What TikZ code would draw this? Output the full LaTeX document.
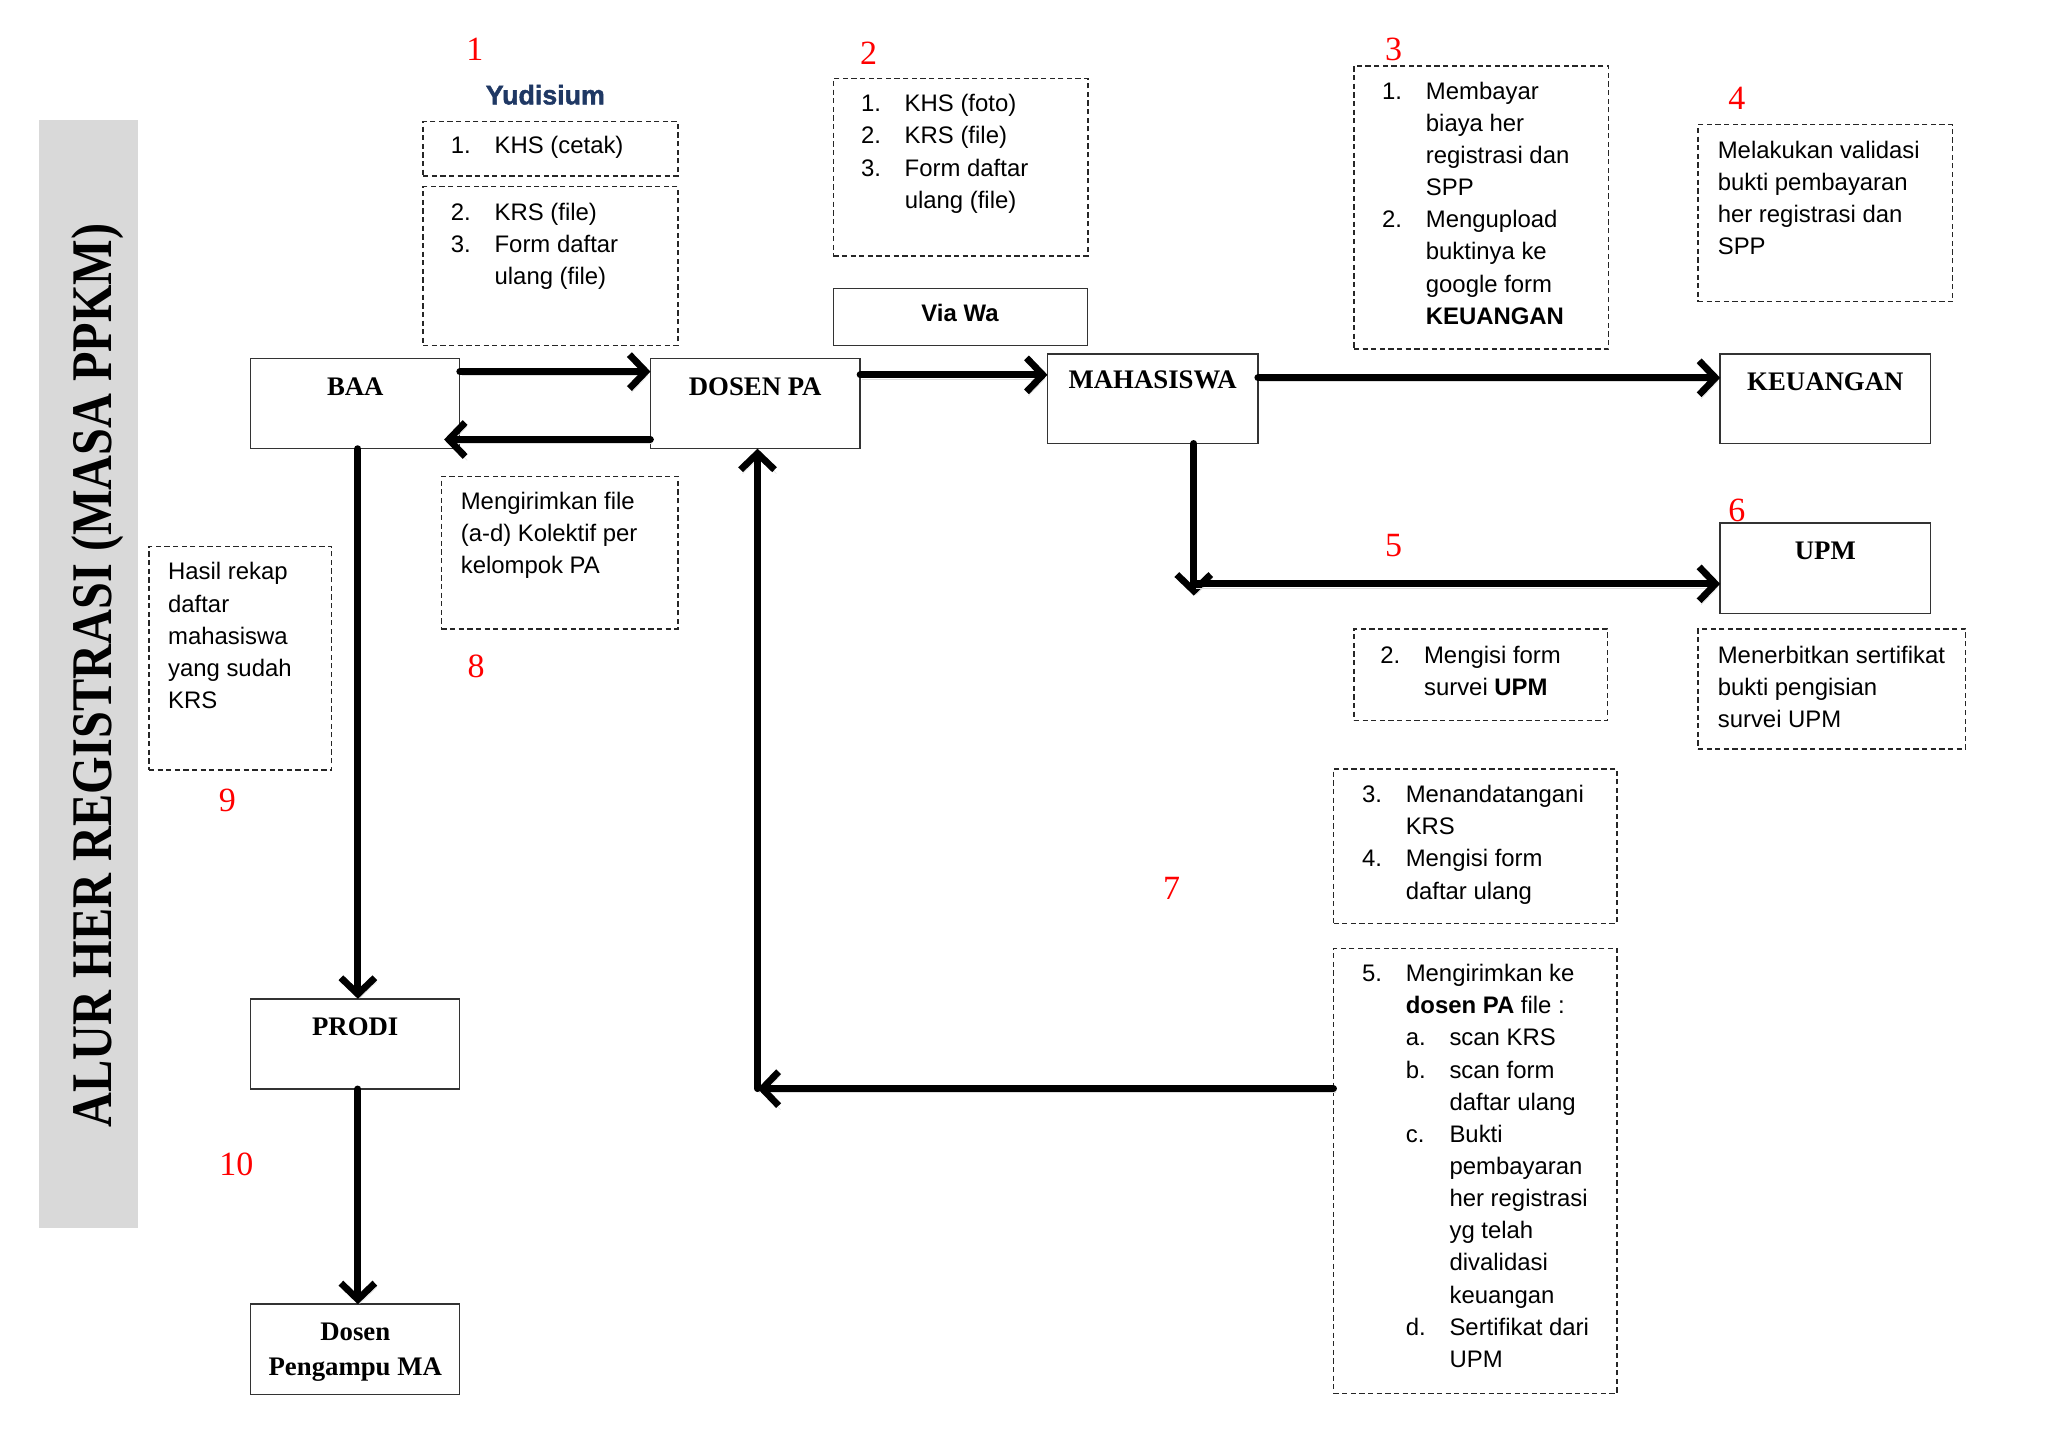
\documentclass[tikz,border=0pt]{standalone}
\usepackage{fontspec}
\usepackage{graphicx}
\setmainfont{Liberation Serif}
\newfontfamily\arialf{Liberation Sans}
\newfontfamily\yudf[BoldFeatures={FakeBold=1.6}]{Liberation Sans}
\usetikzlibrary{arrows.meta}
\definecolor{navy}{HTML}{1F3864}
\definecolor{bandgray}{HTML}{D9D9D9}
\newcommand{\itm}[2]{\makebox[33.5pt][l]{#1}#2}
\newcommand{\cnt}[1]{\hspace*{33.5pt}#1}
\begin{document}
\begin{tikzpicture}[x=1pt,y=-1pt,
  solidbox/.style={draw=black!80, line width=1.1pt, rectangle, anchor=north west, inner sep=0pt, outer sep=0pt},
  dashbox/.style={draw=black!85, line width=1.1pt, dash pattern=on 4pt off 2.6pt, rectangle, anchor=north west, inner sep=0pt, outer sep=0pt},
  lbl/.style={font=\bfseries\fontsize{20.5}{27}\selectfont, anchor=base, inner sep=0pt, align=center},
  txt/.style={font=\arialf\fontsize{18.3}{24.6}\selectfont, anchor=base west, inner sep=0pt, align=left},
  num/.style={font=\fontsize{26}{30}\selectfont, text=red, anchor=base, inner sep=0pt},
  arr/.style={line width=5.2pt, -{Straight Barb[length=12.5pt,width=26pt]}, line cap=round,
    preaction={draw=black!13, transform canvas={shift={(1.5pt,-3pt)}}}},
]
\useasboundingbox (0,0) rectangle (1568,1108.6);
\fill[white] (0,0) rectangle (1568,1108.6);
% title band
\fill[bandgray] (30,92) rectangle (106,940);
\node[rotate=90, anchor=base, inner sep=0pt, font=\bfseries\fontsize{44}{50}\selectfont] (title) at (85.5,517) {\scalebox{0.84}[1]{ALUR HER REGISTRASI (MASA PPKM)}};

% solid boxes
\node[solidbox, minimum width=160pt, minimum height=69pt] (baa) at (192,274.5) {};
\node[solidbox, minimum width=160.5pt, minimum height=69pt] (dosen) at (498,274.5) {};
\node[solidbox, minimum width=161pt, minimum height=68.5pt] (maha) at (802,271) {};
\node[solidbox, minimum width=161pt, minimum height=68.5pt] (keu) at (1317,271) {};
\node[solidbox, minimum width=161pt, minimum height=69pt] (upm) at (1317,400.5) {};
\node[solidbox, minimum width=194.5pt, minimum height=43.5pt] (viawa) at (638,221) {};
\node[solidbox, minimum width=160pt, minimum height=69pt] (prodi) at (192,764.7) {};
\node[solidbox, minimum width=160pt, minimum height=69pt] (dma) at (192,998.5) {};

% labels (a multi-line node's base is its last line)
\node[lbl] (baa-l) at (272,302.5) {BAA};
\node[lbl] (dosen-l) at (578.2,302.5) {DOSEN PA};
\node[lbl] (maha-l) at (882.5,297.6) {MAHASISWA};
\node[lbl] (keu-l) at (1397.5,298.7) {KEUANGAN};
\node[lbl] (upm-l) at (1397.5,428.4) {UPM};
\node[lbl] (prodi-l) at (272,793) {PRODI};
\node[lbl] (dma-l) at (272,1053) {Dosen\\Pengampu MA};
\node[font=\arialf\bfseries\fontsize{18.3}{22}\selectfont, anchor=base, inner sep=0pt] (viawa-l) at (735,246.5) {Via Wa};

% dashed boxes
\node[dashbox, minimum width=195pt, minimum height=41.7pt] (d1a) at (324,93) {};
\node[dashbox, minimum width=195pt, minimum height=121.4pt] (d1b) at (324,143) {};
\node[dashbox, minimum width=195pt, minimum height=136pt] (d2) at (638,60) {};
\node[dashbox, minimum width=195pt, minimum height=216.8pt] (d3) at (1036.6,50.5) {};
\node[dashbox, minimum width=195pt, minimum height=135.5pt] (d4) at (1300,95.5) {};
\node[dashbox, minimum width=194pt, minimum height=70pt] (d5) at (1036.6,481.5) {};
\node[dashbox, minimum width=205pt, minimum height=92pt] (d6) at (1300,481.5) {};
\node[dashbox, minimum width=217pt, minimum height=118.3pt] (d7a) at (1021,588.7) {};
\node[dashbox, minimum width=217pt, minimum height=341pt] (d7b) at (1021,726) {};
\node[dashbox, minimum width=181pt, minimum height=116.7pt] (d8) at (338,364.8) {};
\node[dashbox, minimum width=140pt, minimum height=171.4pt] (d9) at (114,418.2) {};

% texts (placed by the baseline of their last line)
\node[font=\yudf\bfseries\fontsize{20.5}{24}\selectfont, text=navy, anchor=base, inner sep=0pt] (yud) at (417.5,79.9) {Yudisium};
\node[txt] (t1a) at (345,117.7) {\itm{1.}{KHS (cetak)}};
\node[txt] (t1b) at (345,217.9) {\itm{2.}{KRS (file)}\\ \itm{3.}{Form daftar}\\ \cnt{ulang (file)}};
\node[txt] (t2) at (659,159.4) {\itm{1.}{KHS (foto)}\\ \itm{2.}{KRS (file)}\\ \itm{3.}{Form daftar}\\ \cnt{ulang (file)}};
\node[txt] (t3) at (1058,248.2) {\itm{1.}{Membayar}\\ \cnt{biaya her}\\ \cnt{registrasi dan}\\ \cnt{SPP}\\ \itm{2.}{Mengupload}\\ \cnt{buktinya ke}\\ \cnt{google form}\\ \cnt{\textbf{KEUANGAN}}};
\node[txt] (t4) at (1315,194.8) {Melakukan validasi\\ bukti pembayaran\\ her registrasi dan\\ SPP};
\node[txt] (t8) at (352.6,439.2) {Mengirimkan file\\ (a-d) Kolektif per\\ kelompok PA};
\node[txt] (t9) at (128.5,542.4) {Hasil rekap\\ daftar\\ mahasiswa\\ yang sudah\\ KRS};
\node[txt] (t5) at (1056.6,532.2) {\itm{2.}{Mengisi form}\\ \cnt{survei \textbf{UPM}}};
\node[txt] (t6) at (1315,556.8) {Menerbitkan sertifikat\\ bukti pengisian\\ survei UPM};
\node[txt] (t7a) at (1042.6,688.3) {\itm{3.}{Menandatangani}\\ \cnt{KRS}\\ \itm{4.}{Mengisi form}\\ \cnt{daftar ulang}};
\node[txt] (t7b) at (1042.6,1046.8) {\itm{5.}{Mengirimkan ke}\\ \cnt{\textbf{dosen PA} file :}\\ \cnt{\itm{a.}{scan KRS}}\\ \cnt{\itm{b.}{scan form}}\\ \cnt{\cnt{daftar ulang}}\\ \cnt{\itm{c.}{Bukti}}\\ \cnt{\cnt{pembayaran}}\\ \cnt{\cnt{her registrasi}}\\ \cnt{\cnt{yg telah}}\\ \cnt{\cnt{divalidasi}}\\ \cnt{\cnt{keuangan}}\\ \cnt{\itm{d.}{Sertifikat dari}}\\ \cnt{\cnt{UPM}}};

% numbers
\node[num] (n1) at (363.5,46) {1};
\node[num] (n2) at (665,49.5) {2};
\node[num] (n3) at (1067,46) {3};
\node[num] (n4) at (1329.7,83.8) {4};
\node[num] (n5) at (1067,426) {5};
\node[num] (n6) at (1329.7,399.5) {6};
\node[num] (n7) at (897,688.7) {7};
\node[num] (n8) at (364.5,519) {8};
\node[num] (n9) at (174,621.5) {9};
\node[num] (n10) at (181,900) {10};

% arrows
\coordinate (c5) at (914,456);
\coordinate (c5h) at (914,447);
\coordinate (c7) at (580,833.5);
\draw[arr] ([yshift=24.5pt]baa.east) -- ([yshift=24.5pt]dosen.west);
\draw[arr] ([yshift=-27.5pt]dosen.west) -- ([xshift=-12pt,yshift=-27.5pt]baa.east);
\draw[arr] ([yshift=22pt]dosen.east) -- ([yshift=18.25pt]maha.west);
\draw[arr] ([yshift=16pt]maha.east) -- ([yshift=16pt]keu.west);
\draw[arr] (maha.south -| c5) -- (c5);
\draw[arr] (c5h) -- (c5h -| upm.west);
\draw[arr] ([xshift=2pt]baa.south) -- ([xshift=2pt]prodi.north);
\draw[arr] ([xshift=2pt]prodi.south) -- ([xshift=2pt]dma.north);
\draw[arr] (c7 -| d7b.west) -- (c7);
\draw[arr] (c7) -- (c7 |- dosen.south);
\end{tikzpicture}
\end{document}
